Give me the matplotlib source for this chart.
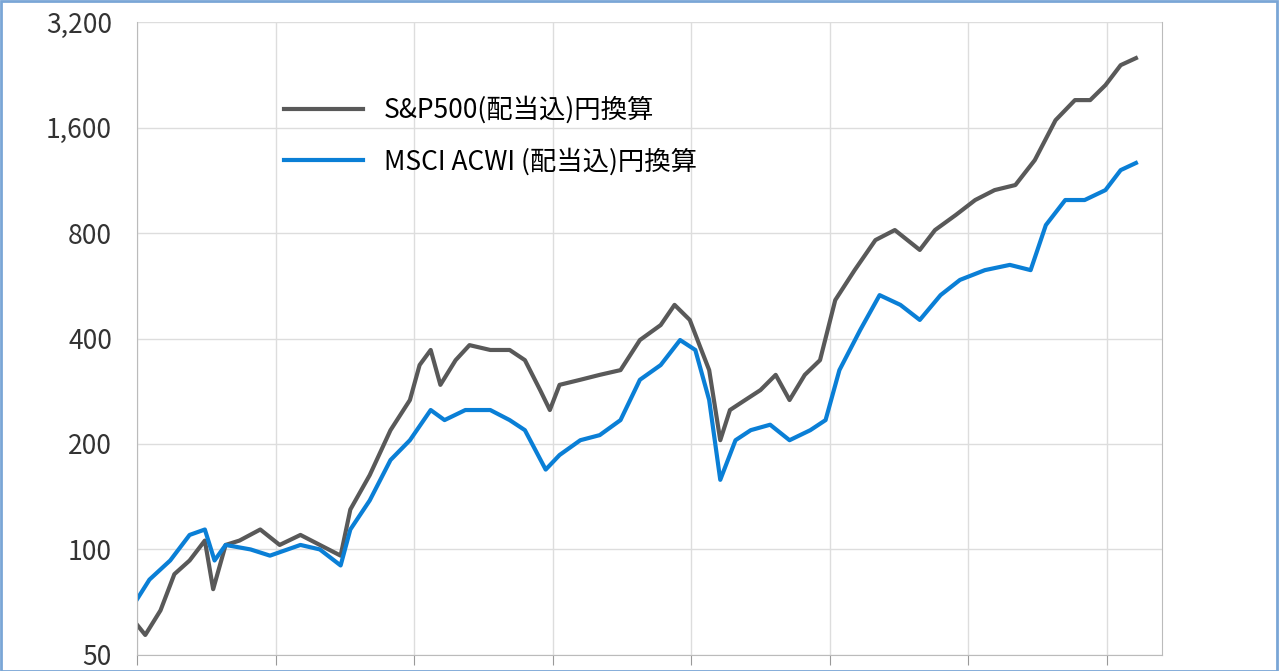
import matplotlib
matplotlib.use("Agg")
import matplotlib.pyplot as plt
from matplotlib.ticker import FixedLocator, FuncFormatter, NullLocator
from matplotlib.patches import Rectangle

plt.rcParams['font.family'] = ['Noto Sans CJK JP', 'DejaVu Sans']

# time in grid units (one vertical gridline per unit)
t_sp = [0, .06, .17, .27, .38, .49, .55, .64, .74, .89, 1.03, 1.18, 1.32, 1.47, 1.54, 1.68,
        1.83, 1.97, 2.04, 2.12, 2.19, 2.30, 2.40, 2.55, 2.69, 2.80, 2.91, 2.98, 3.05, 3.20,
        3.34, 3.49, 3.63, 3.78, 3.88, 3.99, 4.06, 4.13, 4.21, 4.28, 4.39, 4.50, 4.61, 4.71,
        4.82, 4.93, 5.04, 5.18, 5.33, 5.47, 5.65, 5.76, 5.91, 6.05, 6.19, 6.34, 6.48, 6.63,
        6.77, 6.88, 6.99, 7.10, 7.21]
sp500 = [61, 57, 67, 85, 93, 106, 77, 103, 106, 114, 103, 110, 103, 96, 130, 163, 219, 267,
         336, 371, 295, 347, 383, 371, 371, 347, 285, 250, 295, 305, 315, 325, 396, 437, 499,
         452, 383, 325, 205, 250, 267, 285, 315, 267, 315, 347, 515, 627, 764, 816, 716, 816,
         901, 994, 1061, 1097, 1292, 1680, 1917, 1917, 2115, 2412, 2526]

t_acwi = [0, .09, .24, .38, .49, .56, .64, .82, .96, 1.18, 1.32, 1.47, 1.54, 1.68, 1.83, 1.97,
          2.12, 2.22, 2.37, 2.55, 2.69, 2.80, 2.95, 3.05, 3.20, 3.34, 3.49, 3.63, 3.78, 3.92,
          4.03, 4.13, 4.21, 4.32, 4.43, 4.57, 4.71, 4.86, 4.97, 5.07, 5.22, 5.36, 5.51, 5.65,
          5.80, 5.94, 6.12, 6.30, 6.45, 6.56, 6.70, 6.84, 6.99, 7.10, 7.21]
acwi = [72, 82, 93, 110, 114, 93, 103, 100, 96, 103, 100, 90, 114, 138, 180, 205, 250, 234,
        250, 250, 234, 219, 169, 186, 205, 212, 234, 305, 336, 396, 371, 267, 158, 205, 219,
        227, 205, 219, 234, 325, 423, 532, 499, 452, 532, 588, 627, 649, 627, 843, 994, 994,
        1061, 1210, 1268]

yticks = [50, 100, 200, 400, 800, 1600, 3200]

fig = plt.figure(figsize=(12.8, 6.71), dpi=100)
ax = fig.add_axes([0.107, 0.024, 0.801, 0.943])
ax.plot(t_sp, sp500, color='#595959', lw=3, label='S&P500(配当込)円換算')
ax.plot(t_acwi, acwi, color='#0a7fd6', lw=3, label='MSCI ACWI (配当込)円換算')

ax.set_yscale('log')
ax.set_ylim(50, 3200)
ax.set_xlim(0, 7.40)
ax.yaxis.set_major_locator(FixedLocator(yticks))
ax.yaxis.set_minor_locator(NullLocator())
ax.yaxis.set_major_formatter(FuncFormatter(lambda v, p: f'{int(round(v)):,}'))
ax.set_xticks(range(8))
ax.set_xticklabels([])
ax.tick_params(axis='y', length=0, labelsize=19, colors='#333333', pad=18)
ax.tick_params(axis='x', length=7, color='#999999', direction='out')
ax.grid(True, color='#dddddd', lw=1)
for s in ax.spines.values():
    s.set_color('#bbbbbb')
ax.spines['top'].set_visible(False)

ax.legend(loc='upper left', bbox_to_anchor=(0.12, 0.92), frameon=False, fontsize=19,
          handlelength=3.0, labelspacing=0.9)

fig.patches.append(Rectangle((0.001, 0), 0.997, 0.998, transform=fig.transFigure,
                             fill=False, ec='#7aa6d6', lw=2))
fig.savefig('out.png', dpi=100)
